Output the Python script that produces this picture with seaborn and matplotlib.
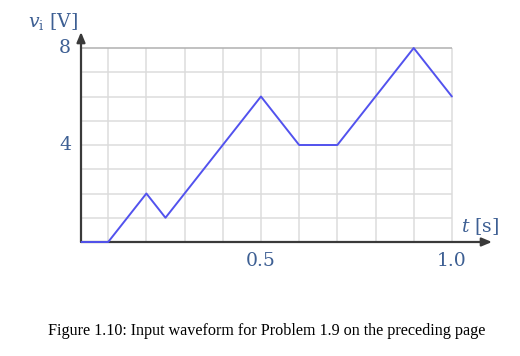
import matplotlib
matplotlib.use("Agg")
import matplotlib.pyplot as plt
import seaborn as sns
import pandas as pd

# data
t_vals = [0.03, 0.1, 0.2, 0.25, 0.5, 0.6, 0.7, 0.9, 1.0]
v_vals = [0, 0, 2, 1, 6, 4, 4, 8, 6]
x_ticks = [0.5, 1.0]
x_tick_labels = ["0.5", "1.0"]
y_ticks = [4, 8]
y_tick_labels = ["4", "8"]
caption = "Figure 1.10: Input waveform for Problem 1.9 on the preceding page"

sns.set_style("white")
plt.rcParams["font.family"] = ["DejaVu Serif"]
plt.rcParams["mathtext.fontset"] = "dejavuserif"

fig = plt.figure(figsize=(5.2, 3.56), dpi=100)
ax = fig.add_axes([81 / 520, 1 - 242 / 356, (492 - 81) / 520, (242 - 32) / 356])

x0, x1 = 0.0288, 1.105
y0, y1 = 0.0, 8.66
ax.set_xlim(x0, x1)
ax.set_ylim(y0, y1)

grid_c = "#dcdcdc"
for gx in [0.1 * i for i in range(1, 11)]:
    ax.vlines(gx, 0, 8, color=grid_c, lw=1.1, zorder=1)
for gy in range(1, 8):
    ax.hlines(gy, x0, 1.0, color=grid_c, lw=1.1, zorder=1)
ax.hlines(8, x0, 1.0, color="#b0b0b0", lw=1.1, zorder=1)

for s in ax.spines.values():
    s.set_visible(False)

axis_c = "#3a3a3a"
ax.annotate("", xy=(1.0, 0), xytext=(0, 0), xycoords="axes fraction",
            arrowprops=dict(arrowstyle="-|>,head_length=0.6,head_width=0.25",
                            color=axis_c, lw=1.6, shrinkA=0, shrinkB=0),
            annotation_clip=False, zorder=2)
ax.annotate("", xy=(0, 1.0), xytext=(0, 0), xycoords="axes fraction",
            arrowprops=dict(arrowstyle="-|>,head_length=0.6,head_width=0.25",
                            color=axis_c, lw=1.6, shrinkA=0, shrinkB=0),
            annotation_clip=False, zorder=2)

df = pd.DataFrame({"t": t_vals, "v": v_vals})
sns.lineplot(data=df, x="t", y="v", ax=ax, color="#5252ee", lw=1.4, zorder=5,
             clip_on=False)

ax.set_xticks([])
ax.set_yticks([])
ax.set_xlabel("")
ax.set_ylabel("")

txt_c = "#3d5f93"
tick_font = ["DejaVu Serif"]
for xt, lbl in zip(x_ticks, x_tick_labels):
    ax.text(xt, -0.4, lbl, ha="center", va="top", fontsize=13.5, color=txt_c,
            family=tick_font)
for yt, lbl in zip(y_ticks, y_tick_labels):
    ax.text(x0 - 0.026, yt, lbl, ha="right", va="center", fontsize=13.5,
            color=txt_c, family=tick_font)

ax.text(1.073, 0.42, r"$t$ [s]", ha="center", va="baseline", fontsize=13.5,
        color=txt_c, family=["DejaVu Serif"])
fig.text(28 / 520, 1 - 21 / 356, r"$v_{\mathrm{i}}$ [V]", ha="left",
         va="center", fontsize=13.5, color=txt_c, family=["DejaVu Serif"])

fig.text(0.5125, 1 - 331 / 356, caption, ha="center", va="center",
         fontsize=11.6, color="black", family=["Liberation Serif"])

fig.savefig("out.png", dpi=100, facecolor="white")
